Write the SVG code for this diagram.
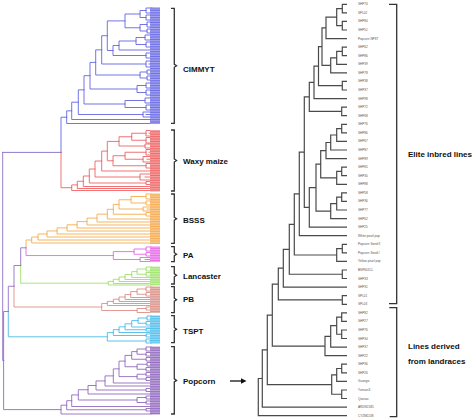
<svg xmlns="http://www.w3.org/2000/svg" width="474" height="420" viewBox="0 0 474 420">
<defs>
<pattern id="st" width="10" height="1.7" patternUnits="userSpaceOnUse"><rect y="1.05" width="10" height="0.65" fill="#fff" opacity="0.5"/></pattern>
<style>
.t{fill:none;stroke-width:0.85;stroke-linecap:square}
.c1{stroke:#5c5ce0}.c2{stroke:#ec5a5c}.c3{stroke:#f4a846}.c4{stroke:#e25fe4}.c5{stroke:#98e060}.c6{stroke:#d9897f}.c7{stroke:#40b6e8}.c8{stroke:#8c62ba}.cv{stroke:#8a68c4}.cr{stroke:#7463cc}
.b1{fill:#6f6fe6}.b2{fill:#f06a6a}.b3{fill:#f6ad55}.b4{fill:#e86ee8}.b5{fill:#a4e474}.b6{fill:#dc958c}.b7{fill:#56c0ec}.b8{fill:#9670c2}
.br{fill:none;stroke:#333;stroke-width:1.3}
.lb{font-family:"Liberation Sans",Arial,sans-serif;font-weight:bold;font-size:8px;fill:#111;dominant-baseline:central}
.rt{fill:none;stroke:#4a4a4a;stroke-width:1.2}
.lf{font-family:"Liberation Sans",Arial,sans-serif;font-size:3.1px;fill:#555;dominant-baseline:central}
</style>
</defs>
<rect width="474" height="420" fill="#fff"/>

<g id="connectors">
<path class="t cr" d="M61 152.4H2.7"/>
<path class="t c1" d="M66.7 117.2H61V152.4"/>
<path class="t c2" d="M71.7 187.7H61V152.4"/>
<path class="t c3" d="M31.7 240H26V247.8"/>
<path class="t c4" d="M113.3 255.55H26V247.8"/>
<path class="t cv" d="M26 247.8H20.7V265.5"/>
<path class="t c5" d="M108.3 283.2H20.7V265.5"/>
<path class="t cv" d="M20.7 265.5H14V286.25"/>
<path class="t c6" d="M101.7 307H14V286.25"/>
<path class="t cv" d="M14 286.25H8.3V311.5"/>
<path class="t c7" d="M107.3 336.8H8.3V311.5"/>
<path class="t cv" d="M8.3 311.5H3.6V360.5"/>
<path class="t c8" d="M61 409.6H3.6V360.5"/>
<path class="t cv" d="M3.6 360.5H2.7V152.4"/>
<path d="M230 381H241" stroke="#111" stroke-width="1.3"/>
<polygon points="241,378.3 246.5,381 241,383.7" fill="#111"/>
</g>

<g id="cimmyt">
<path class="t c1" d="M152 8H146V13H152M152 15H146V20H152M146 10.5H140V17.5H146M152 22H147V27H152M152 29H147V33H152M147 24.5H140V31H147M140 14H125V27.75H140M152 35H145V40H152M152 42H146V47H152M145 37.5H136V44.5H146M136 41H119V50H152M152 53H146V58H152M119 45.5H113V55.5H146M125 20.9H107.3V50.5H113M152 61H146V67H152M149 64H152M107.3 35.7H101.7V64H146M152 70H147V74H152M152 76H147V80H152M147 72H140V78H147M101.7 49.85H95.7V75H140M152 83H146V88H152M152 90H146V95H152M146 85.5H137V92.5H146M95.7 62.4H90V89H137M152 98H145V103H152M152 105H146V110H152M145 100.5H125V107.5H146M90 75.7H84V104H125M152 112H143V117H152M146 114.5H152M84 89.85H78.3V114.5H143M78.3 102.2H71.7V119.5H152M71.7 110.85H66.7V123.5H152"/>
<rect class="b1" x="150" y="7.5" width="10" height="116.5"/>
<path class="br" d="M171 8.3H174.3V64.3L176.6 65.8L174.3 67.3V123.3H171"/>
<text class="lb" x="183" y="69">CIMMYT</text>
</g>

<g id="waxy">
<path class="t c2" d="M152 130.5H146V136H152M149 133.25H152M152 137.5H146V143H152M146 133.25H131.7V140.25H146M152 144H145V148H152M131.7 136.75H119V146H145M152 149.5H146V155H152M149 152.25H152M152 156.5H143V162H152M147 159.25H152M146 152.25H125V159.25H143M152 163.5H146V168H152M125 155.75H113V165.75H146M119 141.4H107.3V160.75H113M107.3 151.1H101.7V171H152M152 174H140V180H152M145 177H152M101.7 161H95V177H140M152 181.5H146V184.5H152M95 169H89.3V183H146M89.3 176H83.3V186.5H152M83.3 181.25H77.3V188.5H152M77.3 184.9H71.7V190.5H152"/>
<rect class="b2" x="150" y="130" width="10" height="61.5"/>
<path class="br" d="M171 130H174.3V159L176.6 160.5L174.3 162V191H171"/>
<text class="lb" x="183" y="161">Waxy maize</text>
</g>

<g id="bsss">
<path class="t c3" d="M152 194H146V199H152M152 201H146V205H152M146 196.5H131V203H146M152 207H143V211H152M147 209H152M131 199.75H119V209H143M152 212.5H146V216H152M119 204.4H113.3V214.25H146M113.3 209.3H107.3V219H152M107.3 214.15H97V222H152M97 218.1H87V225H152M87 221.55H77V228H152M77 224.8H67V231H152M67 227.9H57V234H152M57 230.95H47V237H152M47 234H38V240H152M38 237H31.7V243H152"/>
<rect class="b3" x="150" y="193.5" width="10" height="50.5"/>
<path class="br" d="M171 194H174.3V217.2L176.6 218.7L174.3 220.2V243.3H171"/>
<text class="lb" x="183" y="220.7">BSSS</text>
</g>

<g id="pa">
<path class="t c4" d="M152 247H146V251H152M152 252.5H146V256H152M146 249H134V254.25H146M152 257.5H140V261.5H152M145 259.5H152M134 251.6H113.3V259.5H140"/>
<rect class="b4" x="150" y="246.5" width="10" height="15.5"/>
<path class="br" d="M171 246.7H174.3V252.7L176.6 254.2L174.3 255.7V261.7H171"/>
<text class="lb" x="183" y="255.3">PA</text>
</g>

<g id="lancaster">
<path class="t c5" d="M152 267H146V271H152M152 272.5H146V276H152M146 269H137V274.25H146M137 271.6H131.7V277.5H152M131.7 274.55H125V279.5H152M125 277H119V281.5H152M119 279.25H113.3V283.5H152M113.3 281.4H108.3V285H152"/>
<rect class="b5" x="150" y="266.5" width="10" height="19"/>
<path class="br" d="M171 266.7H174.3V273.8L176.6 275.3L174.3 276.8V284H171"/>
<text class="lb" x="183" y="276.7">Lancaster</text>
</g>

<g id="pb">
<path class="t c6" d="M152 287H146V291H152M152 292.5H146V296H152M146 289H137V294.25H146M137 291.6H130.7V297.5H152M130.7 294.55H125V299.5H152M125 297H119V301.5H152M119 299.25H113.3V303.5H152M113.3 301.4H107.3V305.5H152M152 307H146V310H152M146 308.5H137V312.5H152M107.3 303.45H101.7V310.5H137"/>
<rect class="b6" x="150" y="286.5" width="10" height="26.5"/>
<path class="br" d="M171 286.7H174.3V298.2L176.6 299.7L174.3 301.2V312.7H171"/>
<text class="lb" x="183" y="299.3">PB</text>
</g>

<g id="tspt">
<path class="t c7" d="M152 316H147V320H152M152 321.5H146V325H152M147 318H138V323.25H146M138 320.6H131.7V327H152M152 328.5H146V331H152M131.7 323.8H125V329.75H146M125 326.8H119V332.5H152M152 334H146V337H152M119 329.65H113.3V335.5H146M152 339H146V343H152M149 341H152M113.3 332.6H107.3V341H146"/>
<rect class="b7" x="150" y="315.5" width="10" height="28"/>
<path class="br" d="M171 315.7H174.3V327.7L176.6 329.2L174.3 330.7V342.7H171"/>
<text class="lb" x="183" y="331.3">TSPT</text>
</g>

<g id="popcorn">
<path class="t c8" d="M152 347H146V351H152M152 352.5H146V356H152M146 349H137V354.25H146M152 357.5H146V361H152M137 351.6H131.7V359.25H146M152 362.5H147V366H152M152 367.5H146V371H152M147 364.25H137V369.25H146M131.7 355.4H125V366.75H137M152 372.5H146V376H152M152 377.5H146V380.5H152M146 374.25H137V379H146M125 361.1H119V376.6H137M119 368.85H113.3V383H152M113.3 375.9H105V386H152M152 388.5H146V391.5H152M105 380.95H96V390H146M96 385.5H88V394H152M152 396H146V399H152M152 401H146V404H152M146 397.5H137V402.5H146M88 389.75H78.3V400H137M78.3 394.9H71.7V406.5H152M152 408.5H146V411H152M71.7 400.7H66.7V409.75H146M66.7 405.2H61V414H152"/>
<rect class="b8" x="150" y="346.5" width="10" height="68"/>
<path class="br" d="M171 346.7H174.3V378.9L176.6 380.4L174.3 381.9V414H171"/>
<text class="lb" x="183" y="381">Popcorn</text>
</g>

<rect x="150" y="7" width="10" height="408" fill="url(#st)"/>

<g id="right-tree">
<path class="rt" d="M347 4.3H342.3V12.9H347M347 21.4H342.3V30H347M342.3 8.6H336.7V25.7H342.3M336.7 17.2H326V38.6H347M347 47.2H342.3V55.7H347M342.3 51.4H336.7V64.3H347M336.7 57.9H330.7V72.9H347M326 27.9H322V65.4H330.7M347 81.4H342.3V90H347M322 46.6H318.5V85.7H342.3M318.5 66.2H314V98.6H347M347 107.1H341.7V115.7H347M314 82.4H309.3V111.4H341.7M347 124.3H341.7V132.9H347M341.7 128.6H336.7V141.4H347M336.7 135H330.7V150H347M330.7 142.5H326V158.6H347M347 167.1H341.7V175.7H347M341.7 171.4H336.7V184.3H347M326 150.55H320.7V177.85H336.7M347 192.8H341.7V201.4H347M341.7 197.1H336.7V210H347M336.7 203.55H330.7V218.55H347M320.7 164.2H316V211.05H330.7M316 187.6H309.3V227.1H347M309.3 96.9H304.3V207.35H309.3M304.3 152.1H299.3V235.7H347M347 244.3H342.3V252.8H347M342.3 248.55H336.7V261.4H347M299.3 193.9H294.3V255H336.7M347 270H342.3V278.5H347M294.3 224.45H289.3V274.25H342.3M289.3 249.35H283.3V287.1H347M347 295.7H342.3V304.3H347M283.3 268.2H278.3V299.95H342.3M347 312.8H341.7V321.4H347M347 330H341.7V338.5H347M341.7 317.1H336.7V334.25H341.7M336.7 325.7H330.7V347.1H347M330.7 336.4H325V355.7H347M278.3 284.1H272.3V346.05H325M347 364.2H341.7V372.8H347M341.7 368.5H336.7V381.4H347M347 390H341.7V398.5H347M336.7 374.95H331.7V394.25H341.7M272.3 315.1H267.3V384.6H331.7M267.3 349.85H262.3V407.1H347M262.3 378.5H258.3V415.7H347"/>
</g>

<g id="right-labels">
<text class="lf" x="358" y="4.3">SHP74</text>
<text class="lf" x="358" y="12.9">SPL02</text>
<text class="lf" x="358" y="21.4">SHP84</text>
<text class="lf" x="358" y="30">SHP51</text>
<text class="lf" x="358" y="38.6">Popcorn NP87</text>
<text class="lf" x="358" y="47.2">SHP62</text>
<text class="lf" x="358" y="55.7">SHP86</text>
<text class="lf" x="358" y="64.3">SHP39</text>
<text class="lf" x="358" y="72.9">SHP78</text>
<text class="lf" x="358" y="81.4">SHP38</text>
<text class="lf" x="358" y="90">SHP37</text>
<text class="lf" x="358" y="98.6">SHP98</text>
<text class="lf" x="358" y="107.1">SHP72</text>
<text class="lf" x="358" y="115.7">SHP68</text>
<text class="lf" x="358" y="124.3">SHP76</text>
<text class="lf" x="358" y="132.9">SHP86</text>
<text class="lf" x="358" y="141.4">SHP67</text>
<text class="lf" x="358" y="150">SHP87</text>
<text class="lf" x="358" y="158.6">SHP89</text>
<text class="lf" x="358" y="167.1">SHP65</text>
<text class="lf" x="358" y="175.7">SHP30</text>
<text class="lf" x="358" y="184.3">SHP88</text>
<text class="lf" x="358" y="192.8">SHP58</text>
<text class="lf" x="358" y="201.4">SHP36</text>
<text class="lf" x="358" y="210">SHP77</text>
<text class="lf" x="358" y="218.6">SHP62</text>
<text class="lf" x="358" y="227.1">SHP25</text>
<text class="lf" x="358" y="235.7">White pearl pop</text>
<text class="lf" x="358" y="244.3">Popcorn Seed II</text>
<text class="lf" x="358" y="252.8">Popcorn Seed I</text>
<text class="lf" x="358" y="261.4">Yellow pearl pop</text>
<text class="lf" x="358" y="270">BSP601CL</text>
<text class="lf" x="358" y="278.5">SHP33</text>
<text class="lf" x="358" y="287.1">SHP31</text>
<text class="lf" x="358" y="295.7">SPL01</text>
<text class="lf" x="358" y="304.3">SPL03</text>
<text class="lf" x="358" y="312.8">SHP82</text>
<text class="lf" x="358" y="321.4">SHP27</text>
<text class="lf" x="358" y="330">SHP76</text>
<text class="lf" x="358" y="338.5">SHP34</text>
<text class="lf" x="358" y="347.1">SHP37</text>
<text class="lf" x="358" y="355.7">SHP22</text>
<text class="lf" x="358" y="364.2">SHP36</text>
<text class="lf" x="358" y="372.8">SHP26</text>
<text class="lf" x="358" y="381.4">Guangxi</text>
<text class="lf" x="358" y="390">Yunnan3</text>
<text class="lf" x="358" y="398.5">Qiansai</text>
<text class="lf" x="358" y="407.1">ARDN1585</text>
<text class="lf" x="358" y="415.7">CYZM1138</text>
</g>

<g id="groups-right">
<path class="br" d="M389 4.3H396.7V303.7H389"/>
<path class="br" d="M389.3 307.7H396.7V416.7H389.7"/>
<text class="lb" x="408" y="154">Elite inbred lines</text>
<text class="lb" x="408" y="346.7">Lines derived</text>
<text class="lb" x="408" y="361.7">from landraces</text>
</g>
</svg>
